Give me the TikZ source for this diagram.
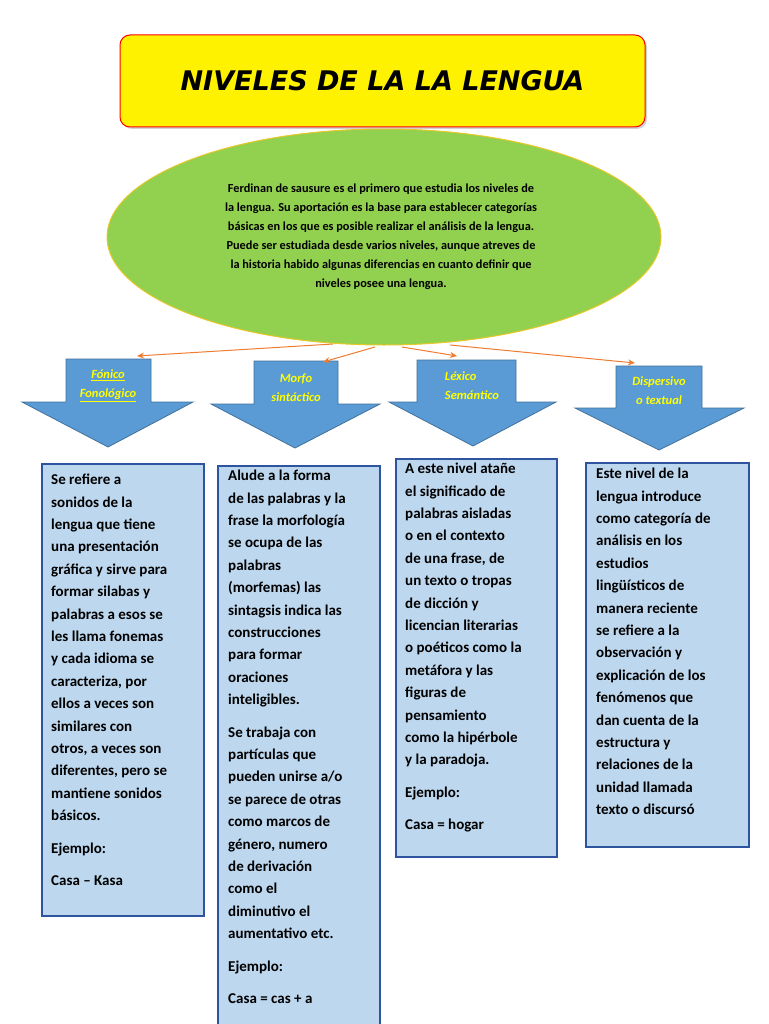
\documentclass[tikz,border=0pt]{standalone}
\usepackage{fontspec}
\setmainfont{Carlito}
\newfontfamily\titlefont{DejaVu Sans}
\usetikzlibrary{shapes.geometric,arrows.meta,shadows}
\definecolor{boxfill}{RGB}{189,215,238}
\definecolor{boxline}{RGB}{46,84,160}
\definecolor{arrfill}{RGB}{91,155,213}
\definecolor{arrline}{RGB}{65,113,156}
\definecolor{ellfill}{RGB}{146,208,80}
\definecolor{ellline}{RGB}{230,200,40}
\definecolor{conn}{RGB}{237,125,49}
\definecolor{lbl}{RGB}{255,255,0}
\tikzset{x=1pt,y=-1pt,
 textbox/.style={draw=boxline,line width=1.5pt,fill=boxfill},
 boxtext/.style={anchor=north west,align=left,inner sep=0pt,font=\fontsize{15}{22.4}\selectfont\bfseries},
 downarrow/.style={draw=arrline,line width=0.8pt,fill=arrfill},
 arrlabel/.style={align=center,text=lbl,font=\fontsize{12.5}{19}\selectfont\bfseries\itshape},
 conline/.style={draw=conn,line width=1pt,-{Stealth[length=7pt,width=6pt]}}}
\begin{document}
\begin{tikzpicture}
\useasboundingbox (0,0) rectangle (768,1024);
\fill[white] (0,0) rectangle (768,1024);
% title
\node[draw=red,line width=1pt,fill=yellow,rounded corners=10pt,minimum width=525pt,minimum height=92pt,drop shadow={shadow xshift=2pt,shadow yshift=-2pt,fill=gray!70}] (title) at (382.5,81) {};
\node[font=\titlefont\fontsize{27}{30}\selectfont\bfseries\itshape] at (title) {NIVELES DE LA LA LENGUA};
% ellipse
\node[ellipse,draw=ellline,line width=1pt,fill=ellfill,minimum width=554pt,minimum height=216pt] (ell) at (384,237) {};
\node[align=center,font=\fontsize{12.3}{19}\selectfont\bfseries] at (381,237) {Ferdinan de sausure es el primero que estudia los niveles de\\la lengua. Su aportación es la base para establecer categorías\\básicas en los que es posible realizar el análisis de la lengua.\\Puede ser estudiada desde varios niveles, aunque atreves de\\la historia habido algunas diferencias en cuanto definir que\\niveles posee una lengua.};
% down arrows
\draw[downarrow] (66,359) -- (151,359) -- (151,402) -- (193,402) -- (108,447) -- (22,402) -- (66,402) -- cycle;
\draw[downarrow] (254,361) -- (338,361) -- (338,404) -- (380,404) -- (295,448) -- (211,404) -- (254,404) -- cycle;
\draw[downarrow] (417,360) -- (516,360) -- (516,402) -- (556,402) -- (473,446) -- (389,402) -- (417,402) -- cycle;
\draw[downarrow] (616,366) -- (702,366) -- (702,408) -- (744,408) -- (659,450) -- (575,408) -- (616,408) -- cycle;
\coordinate (a1) at (137,356);
\coordinate (a2) at (323,362);
\coordinate (a3) at (457,356);
\coordinate (a4) at (635,363);
\node[arrlabel] at (108,386) {\underline{Fónico}\\\underline{Fonológico}};
\node[arrlabel] at (296,388) {Morfo\\sintáctico};
\node[arrlabel,align=left] at (472,386) {Léxico\\Semántico};
\node[arrlabel] at (659,391) {Dispersivo\\o textual};
% connectors
\coordinate (e1) at (333,344);
\coordinate (e2) at (375,347);
\coordinate (e3) at (402,347);
\coordinate (e4) at (450,345);
\draw[conline] (e1) -- (a1);
\draw[conline] (e2) -- (a2);
\draw[conline] (e3) -- (a3);
\draw[conline] (e4) -- (a4);
% text boxes
\node[textbox,minimum width=162pt,minimum height=452pt,anchor=north west] (b1) at (41,463) {};
\node[textbox,minimum width=162pt,minimum height=560pt,anchor=north west] (b2) at (217,465) {};
\node[textbox,minimum width=161pt,minimum height=398pt,anchor=north west] (b3) at (395,458) {};
\node[textbox,minimum width=163pt,minimum height=384pt,anchor=north west] (b4) at (585,462) {};
\node[boxtext] at (51,474) {Se refiere a\\sonidos de la\\lengua que tiene\\una presentación\\gráfica y sirve para\\formar silabas y\\palabras a esos se\\les llama fonemas\\y cada idioma se\\caracteriza, por\\ellos a veces son\\similares con\\otros, a veces son\\diferentes, pero se\\mantiene sonidos\\básicos.\\[10pt]Ejemplo:\\[10pt]Casa -- Kasa};
\node[boxtext] at (228,470) {Alude a la forma\\de las palabras y la\\frase la morfología\\se ocupa de las\\palabras\\(morfemas) las\\sintagsis indica las\\construcciones\\para formar\\oraciones\\inteligibles.\\[10pt]Se trabaja con\\partículas que\\pueden unirse a/o\\se parece de otras\\como marcos de\\género, numero\\de derivación\\como el\\diminutivo el\\aumentativo etc.\\[10pt]Ejemplo:\\[10pt]Casa = cas + a};
\node[boxtext] at (405,463) {A este nivel atañe\\el significado de\\palabras aisladas\\o en el contexto\\de una frase, de\\un texto o tropas\\de dicción y\\licencian literarias\\o poéticos como la\\metáfora y las\\figuras de\\pensamiento\\como la hipérbole\\y la paradoja.\\[10pt]Ejemplo:\\[10pt]Casa = hogar};
\node[boxtext] at (596,468) {Este nivel de la\\lengua introduce\\como categoría de\\análisis en los\\estudios\\lingüísticos de\\manera reciente\\se refiere a la\\observación y\\explicación de los\\fenómenos que\\dan cuenta de la\\estructura y\\relaciones de la\\unidad llamada\\texto o discursó};
\end{tikzpicture}
\end{document}
